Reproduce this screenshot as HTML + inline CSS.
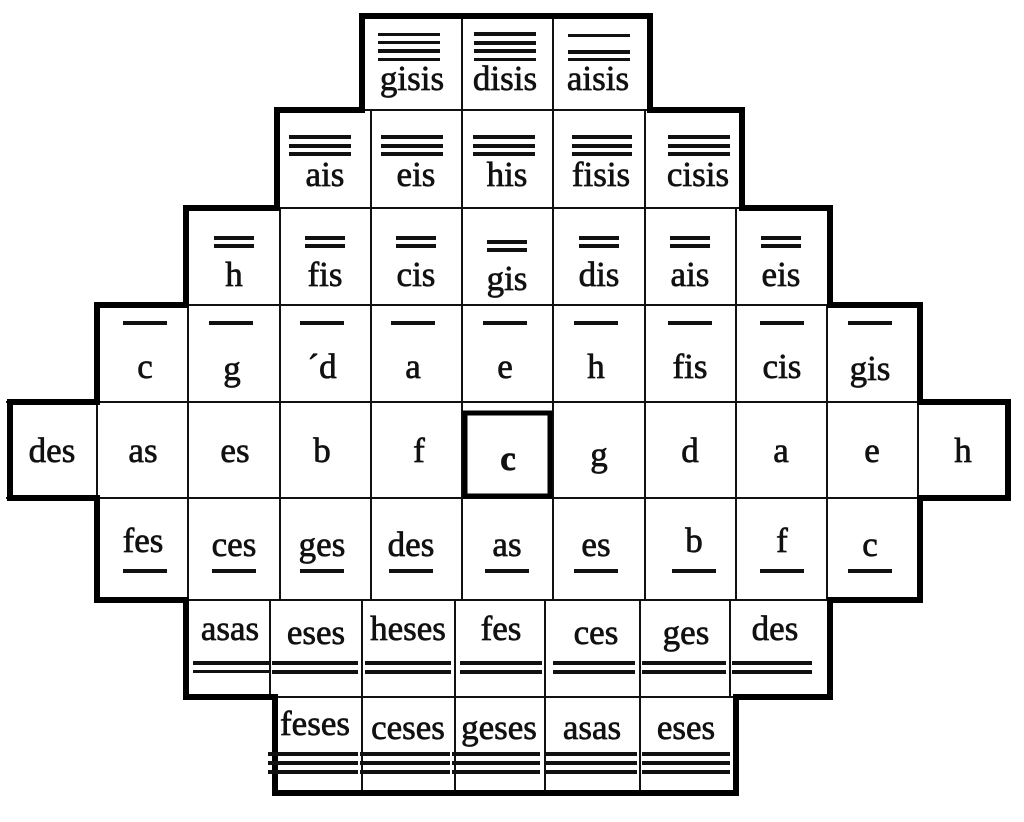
<!DOCTYPE html>
<html><head><meta charset="utf-8"><style>
html,body{margin:0;padding:0;background:#fff;}
svg{display:block}
text{font-family:"Liberation Serif",serif;font-size:35px;text-anchor:middle;fill:#111;stroke:#111;stroke-width:0.7;}
</style></head><body>
<svg width="1024" height="822" viewBox="0 0 1024 822" xmlns="http://www.w3.org/2000/svg">
<g stroke="#111" stroke-width="2" fill="none">
<line x1="280" y1="110" x2="736" y2="110"/>
<line x1="188" y1="208" x2="827" y2="208"/>
<line x1="97" y1="305" x2="918" y2="305"/>
<line x1="6" y1="402" x2="1010" y2="402"/>
<line x1="6" y1="498" x2="1010" y2="498"/>
<line x1="97" y1="600" x2="918" y2="600"/>
<line x1="188" y1="697" x2="827" y2="697"/>
<line x1="462" y1="15" x2="462" y2="110"/><line x1="553" y1="15" x2="553" y2="110"/>
<line x1="371" y1="110" x2="371" y2="208"/><line x1="462" y1="110" x2="462" y2="208"/><line x1="553" y1="110" x2="553" y2="208"/><line x1="645" y1="110" x2="645" y2="208"/>
<line x1="280" y1="208" x2="280" y2="305"/><line x1="371" y1="208" x2="371" y2="305"/><line x1="462" y1="208" x2="462" y2="305"/><line x1="553" y1="208" x2="553" y2="305"/><line x1="645" y1="208" x2="645" y2="305"/><line x1="736" y1="208" x2="736" y2="305"/>
<line x1="188" y1="305" x2="188" y2="402"/><line x1="280" y1="305" x2="280" y2="402"/><line x1="371" y1="305" x2="371" y2="402"/><line x1="462" y1="305" x2="462" y2="402"/><line x1="553" y1="305" x2="553" y2="402"/><line x1="645" y1="305" x2="645" y2="402"/><line x1="736" y1="305" x2="736" y2="402"/><line x1="827" y1="305" x2="827" y2="402"/>
<line x1="97" y1="402" x2="97" y2="498"/><line x1="188" y1="402" x2="188" y2="498"/><line x1="280" y1="402" x2="280" y2="498"/><line x1="371" y1="402" x2="371" y2="498"/><line x1="462" y1="402" x2="462" y2="498"/><line x1="553" y1="402" x2="553" y2="498"/><line x1="645" y1="402" x2="645" y2="498"/><line x1="736" y1="402" x2="736" y2="498"/><line x1="827" y1="402" x2="827" y2="498"/><line x1="918" y1="402" x2="918" y2="498"/>
<line x1="188" y1="498" x2="188" y2="600"/><line x1="280" y1="498" x2="280" y2="600"/><line x1="371" y1="498" x2="371" y2="600"/><line x1="462" y1="498" x2="462" y2="600"/><line x1="553" y1="498" x2="553" y2="600"/><line x1="645" y1="498" x2="645" y2="600"/><line x1="736" y1="498" x2="736" y2="600"/><line x1="827" y1="498" x2="827" y2="600"/>
<line x1="270" y1="600" x2="270" y2="697"/><line x1="362" y1="600" x2="362" y2="697"/><line x1="455" y1="600" x2="455" y2="697"/><line x1="545" y1="600" x2="545" y2="697"/><line x1="640" y1="600" x2="640" y2="697"/><line x1="730" y1="600" x2="730" y2="697"/>
<line x1="362" y1="697" x2="362" y2="793"/><line x1="455" y1="697" x2="455" y2="793"/><line x1="545" y1="697" x2="545" y2="793"/><line x1="640" y1="697" x2="640" y2="793"/>
</g>
<polygon fill="none" stroke="#000" stroke-width="6" points="362,16 650,16 650,110 742,110 742,208 830,208 830,305 920,305 920,402 1008,402 1008,498 920,498 920,600 830,600 830,697 736,697 736,793 275,793 275,697 186,697 186,600 97,600 97,498 10,498 10,402 97,402 97,305 186,305 186,208 277,208 277,110 362,110"/>
<rect x="465" y="413" width="85" height="83" fill="none" stroke="#000" stroke-width="5"/>
<g fill="#111">
<rect x="378" y="33" width="62" height="3"/><rect x="378" y="41" width="62" height="3"/><rect x="378" y="49" width="62" height="4"/><rect x="378" y="58" width="62" height="3"/>
<rect x="474" y="32" width="62" height="4"/><rect x="474" y="41" width="62" height="4"/><rect x="474" y="49" width="62" height="4"/><rect x="474" y="58" width="62" height="3"/>
<rect x="568" y="34" width="62" height="3"/><rect x="568" y="50" width="62" height="4"/><rect x="568" y="58" width="62" height="3"/>
<rect x="289" y="135" width="62" height="4"/><rect x="289" y="144" width="62" height="4"/><rect x="289" y="152" width="62" height="4"/>
<rect x="381" y="135" width="62" height="4"/><rect x="381" y="144" width="62" height="4"/><rect x="381" y="152" width="62" height="4"/>
<rect x="473" y="135" width="62" height="4"/><rect x="473" y="144" width="62" height="4"/><rect x="473" y="152" width="62" height="4"/>
<rect x="572" y="135" width="60" height="4"/><rect x="572" y="144" width="60" height="4"/><rect x="572" y="152" width="60" height="4"/>
<rect x="668" y="135" width="62" height="4"/><rect x="668" y="144" width="62" height="4"/><rect x="668" y="152" width="62" height="4"/>
<rect x="214" y="236" width="40" height="4"/><rect x="214" y="244" width="40" height="4"/>
<rect x="305" y="236" width="40" height="4"/><rect x="305" y="244" width="40" height="4"/>
<rect x="396" y="236" width="40" height="4"/><rect x="396" y="244" width="40" height="4"/>
<rect x="487" y="240" width="40" height="4"/><rect x="487" y="248" width="40" height="4"/>
<rect x="579" y="236" width="40" height="4"/><rect x="579" y="244" width="40" height="4"/>
<rect x="670" y="236" width="40" height="4"/><rect x="670" y="244" width="40" height="4"/>
<rect x="761" y="236" width="40" height="4"/><rect x="761" y="244" width="40" height="4"/>
<rect x="123" y="321" width="44" height="4"/><rect x="209" y="321" width="44" height="4"/><rect x="300" y="321" width="44" height="4"/><rect x="391" y="321" width="44" height="4"/><rect x="483" y="321" width="44" height="4"/><rect x="574" y="321" width="44" height="4"/><rect x="668" y="321" width="44" height="4"/><rect x="760" y="321" width="44" height="4"/><rect x="848" y="321" width="44" height="4"/>
<rect x="123" y="569" width="44" height="4"/><rect x="212" y="569" width="44" height="4"/><rect x="300" y="569" width="44" height="4"/><rect x="389" y="569" width="44" height="4"/><rect x="485" y="569" width="44" height="4"/><rect x="574" y="569" width="44" height="4"/><rect x="672" y="569" width="44" height="4"/><rect x="760" y="569" width="44" height="4"/><rect x="848" y="569" width="44" height="4"/>
<!-- row7 bars -->
<rect x="193" y="661" width="76" height="4"/><rect x="193" y="670" width="76" height="3"/>
<rect x="272" y="661" width="86" height="4"/><rect x="272" y="670" width="86" height="4"/>
<rect x="365" y="661" width="86" height="4"/><rect x="365" y="670" width="86" height="4"/>
<rect x="460" y="661" width="82" height="4"/><rect x="460" y="670" width="82" height="4"/>
<rect x="553" y="661" width="82" height="4"/><rect x="553" y="670" width="82" height="4"/>
<rect x="642" y="661" width="84" height="4"/><rect x="642" y="670" width="84" height="4"/>
<rect x="732" y="661" width="80" height="4"/><rect x="732" y="670" width="80" height="4"/>
<!-- row8 bars -->
<rect x="268" y="752" width="90" height="4"/><rect x="268" y="761" width="90" height="4"/><rect x="268" y="770" width="90" height="4"/>
<rect x="360" y="752" width="90" height="4"/><rect x="360" y="761" width="90" height="4"/><rect x="360" y="770" width="90" height="4"/>
<rect x="452" y="752" width="88" height="4"/><rect x="452" y="761" width="88" height="4"/><rect x="452" y="770" width="88" height="4"/>
<rect x="545" y="752" width="92" height="4"/><rect x="545" y="761" width="92" height="4"/><rect x="545" y="770" width="92" height="4"/>
<rect x="642" y="752" width="88" height="4"/><rect x="642" y="761" width="88" height="4"/><rect x="642" y="770" width="88" height="4"/>
</g>
<text x="412" y="90">gisis</text><text x="505" y="90">disis</text><text x="598" y="90">aisis</text>
<text x="325" y="186">ais</text><text x="416" y="186">eis</text><text x="507" y="186">his</text><text x="601" y="186">fisis</text><text x="698" y="186">cisis</text>
<text x="234" y="286">h</text><text x="325" y="286">fis</text><text x="416" y="286">cis</text><text x="507" y="290">gis</text><text x="599" y="286">dis</text><text x="690" y="286">ais</text><text x="781" y="286">eis</text>
<text x="145" y="378">c</text><text x="232" y="380">g</text><text x="322" y="378">´d</text><text x="413" y="378">a</text><text x="505" y="378">e</text><text x="596" y="378">h</text><text x="690" y="378">fis</text><text x="782" y="378">cis</text><text x="870" y="380">gis</text>
<text x="52" y="462">des</text><text x="143" y="462">as</text><text x="235" y="462">es</text><text x="322" y="462">b</text><text x="419" y="462">f</text><text x="508" y="470" style="font-weight:bold">c</text><text x="599" y="466">g</text><text x="690" y="462">d</text><text x="781" y="462">a</text><text x="872" y="462">e</text><text x="963" y="462">h</text>
<text x="143" y="552">fes</text><text x="234" y="556">ces</text><text x="322" y="556">ges</text><text x="411" y="556">des</text><text x="507" y="556">as</text><text x="596" y="556">es</text><text x="694" y="552">b</text><text x="782" y="552">f</text><text x="870" y="556">c</text>
<text x="230" y="640">asas</text><text x="316" y="644">eses</text><text x="408" y="640">heses</text><text x="501" y="640">fes</text><text x="596" y="644">ces</text><text x="686" y="644">ges</text><text x="775" y="640">des</text>
<text x="315" y="735">feses</text><text x="408" y="739">ceses</text><text x="499" y="739">geses</text><text x="592" y="739">asas</text><text x="686" y="739">eses</text>
</svg>
</body></html>
